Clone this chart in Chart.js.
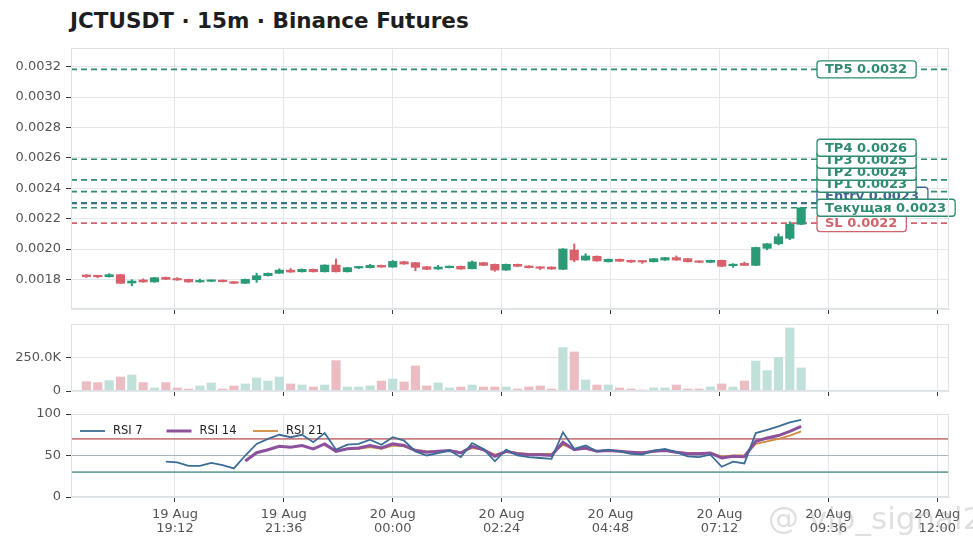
<!DOCTYPE html>
<html>
<head>
<meta charset="utf-8">
<script src="https://cdn.jsdelivr.net/npm/chart.js@4.4.1/dist/chart.umd.min.js"></script>
<style>
  body { margin:0; background:#fff; width:973px; height:548px; overflow:hidden; position:relative; font-family:"DejaVu Sans", sans-serif; }
  #title { position:absolute; left:70px; top:8px; font-size:21.5px; line-height:26px; font-weight:bold; color:#1e1e1e; white-space:nowrap; }
  .pane { position:absolute; left:0; width:973px; }
  #wm { position:absolute; left:768px; top:500px; font-size:31px; color:rgba(150,150,150,0.3); white-space:nowrap; }
</style>
</head>
<body>
<div id="title">JCTUSDT · 15m · Binance Futures</div>
<div class="pane" style="top:40px;height:280px"><canvas id="priceChart"></canvas></div>
<div class="pane" style="top:316px;height:86px"><canvas id="volumeChart"></canvas></div>
<div class="pane" style="top:405px;height:143px"><canvas id="rsiChart"></canvas></div>
<div id="wm">@ vip_signal2026</div>
<script>
// candles start 19 Aug 17:15, one every 15 minutes (x = minutes from 19 Aug 00:00)
var START_MINUTE = 17 * 60 + 15;
var STEP_MINUTES = 15;

var opens = [
  0.001830,0.001826,0.001818,0.001832,0.001777,0.001797,0.001784,0.001814,0.001805,0.001801,
  0.001784,0.001788,0.001794,0.001786,0.001775,0.001799,0.001825,0.001841,0.001862,0.001851,
  0.001867,0.001851,0.001895,0.001851,0.001876,0.001878,0.001893,0.001882,0.001917,0.001911,
  0.001884,0.001869,0.001878,0.001887,0.001871,0.001911,0.001900,0.001862,0.001900,0.001889,
  0.001882,0.001882,0.001867,0.001994,0.001928,0.001953,0.001917,0.001933,0.001926,0.001922,
  0.001917,0.001928,0.001944,0.001937,0.001920,0.001913,0.001926,0.001891,0.001906,0.001893,
  0.002005,0.002035,0.002071,0.002163];
var highs = [
  0.001832,0.001828,0.001839,0.001834,0.001799,0.001805,0.001814,0.001816,0.001812,0.001803,
  0.001803,0.001797,0.001797,0.001788,0.001803,0.001842,0.001843,0.001870,0.001872,0.001869,
  0.001869,0.001897,0.001935,0.001880,0.001887,0.001900,0.001895,0.001925,0.001919,0.001913,
  0.001886,0.001893,0.001889,0.001889,0.001922,0.001913,0.001902,0.001902,0.001902,0.001891,
  0.001884,0.001884,0.002003,0.002034,0.001970,0.001955,0.001935,0.001935,0.001928,0.001924,
  0.001939,0.001946,0.001955,0.001939,0.001922,0.001928,0.001928,0.001904,0.001915,0.002013,
  0.002037,0.002101,0.002180,0.002275];
var lows = [
  0.001813,0.001811,0.001816,0.001773,0.001759,0.001782,0.001782,0.001799,0.001795,0.001782,
  0.001782,0.001786,0.001784,0.001773,0.001773,0.001781,0.001823,0.001839,0.001847,0.001849,
  0.001849,0.001849,0.001849,0.001849,0.001871,0.001876,0.001880,0.001880,0.001900,0.001858,
  0.001865,0.001867,0.001876,0.001867,0.001869,0.001891,0.001854,0.001860,0.001884,0.001876,
  0.001865,0.001867,0.001865,0.001917,0.001926,0.001920,0.001915,0.001917,0.001913,0.001906,
  0.001915,0.001926,0.001926,0.001915,0.001911,0.001911,0.001884,0.001880,0.001891,0.001891,
  0.001996,0.002028,0.002062,0.002161];
var closes = [
  0.001819,0.001818,0.001832,0.001775,0.001790,0.001784,0.001812,0.001801,0.001797,0.001784,
  0.001790,0.001794,0.001786,0.001775,0.001801,0.001825,0.001841,0.001862,0.001849,0.001867,
  0.001851,0.001895,0.001851,0.001878,0.001882,0.001893,0.001882,0.001919,0.001902,0.001880,
  0.001867,0.001882,0.001887,0.001869,0.001915,0.001893,0.001862,0.001900,0.001887,0.001878,
  0.001874,0.001869,0.002001,0.001928,0.001955,0.001922,0.001933,0.001920,0.001915,0.001915,
  0.001937,0.001944,0.001928,0.001917,0.001913,0.001926,0.001887,0.001900,0.001893,0.002011,
  0.002035,0.002082,0.002163,0.002272];
var volumes = [
  70000,63000,78000,105000,120000,63000,23000,63000,23000,15000,
  38000,60000,15000,38000,53000,98000,75000,105000,53000,45000,
  30000,45000,228000,30000,30000,38000,75000,90000,68000,188000,
  38000,60000,23000,30000,45000,30000,30000,30000,15000,30000,
  38000,15000,325000,293000,83000,45000,45000,23000,15000,8000,
  23000,23000,45000,15000,15000,30000,53000,30000,75000,225000,
  153000,253000,473000,173000];

var rsi7 = [null,null,null,null,null,null,null,
  42.5,41.8,37.6,37.6,41,38.5,34.5,50,64,70,75,72,75,66,77,57,63,64,69,63,72,68,55,50,
  53,56,48,65,58,43,57,50,48,47,46,78,58,62,55,57,55,52,51,56,58,54,49,48,51,36.4,42.5,40.5,
  77,81,85,90,93];
var rsi14 = [null,null,null,null,null,null,null,null,null,null,null,null,null,null,
  43.3,53.4,57,61,60,62,58,64,55,58,59,62,59,64,62,56,54,55,56,53,61,57,49,55,52,51,51,50,
  66,57,59,55,56,55,54,53,55,56,54,52,52,53,47,49,48.5,67,71,74,79,85];
var rsi21 = [null,null,null,null,null,null,null,null,null,null,null,null,null,null,null,null,null,null,null,null,null,
  62,56,58,58,60,58,62,61,57,55,55,56,54,59,57,51,55,53,52,52,52,63,57,58,55,56,55,54,54,55,
  56,54,53,53,53,49,50,50,64,67,70,74,79];

var LEVEL_NAMES  = ['TP5', 'TP4', 'TP3', 'TP2', 'TP1', 'Entry', 'Текущая', 'SL'];
var LEVEL_VALUES = [0.003183, 0.002591, 0.002455, 0.002378, 0.002305, 0.002300, 0.002272, 0.002171];
var LEVEL_COLORS = ['#2e8b6f', '#2e8b6f', '#2e8b6f', '#2e8b6f', '#2e8b6f', '#3f6690', '#2e8b6f', '#d0646b'];

var RSI_LEVELS = [70, 50, 30];
var RSI_LEVEL_COLORS = ['#c98083', '#a9b3bc', '#6ea39b'];

var PRICE_TICKS = [0.0018, 0.0020, 0.0022, 0.0024, 0.0026, 0.0028, 0.0030, 0.0032];
var VOLUME_TICKS = [0, 250000];
var RSI_TICKS = [0, 50, 100];
var TIME_TICKS = [1152, 1296, 1440, 1584, 1728, 1872, 2016, 2160];
var TIME_TICK_LABELS = [['19 Aug','19:12'], ['19 Aug','21:36'], ['20 Aug','00:00'], ['20 Aug','02:24'],
  ['20 Aug','04:48'], ['20 Aug','07:12'], ['20 Aug','09:36'], ['20 Aug','12:00']];

var X_MIN = 1014.6, X_MAX = 2175.5;

Chart.defaults.font.family = "'DejaVu Sans', sans-serif";
Chart.defaults.animation = false;

var GREEN = '#2a9a77', RED = '#d9616b';
var VOL_GREEN = '#bfe1d9', VOL_RED = '#ebbcc1';
var GRID = '#e3e7eb', TICKC = '#3a3a3a', LABEL = '#555';

var candleX = opens.map(function(o, i) { return START_MINUTE + i * STEP_MINUTES; });
var isUp = closes.map(function(c, i) { return c >= opens[i]; });

function xAxis(showLabels, height) {
  return {
    type: 'linear', min: X_MIN, max: X_MAX, offset: false,
    grid: { color: GRID, tickColor: TICKC, tickLength: 5, offset: false },
    border: { color: GRID },
    ticks: {
      display: showLabels, color: LABEL, font: { size: 13, lineHeight: 1.12 }, padding: 5,
      maxRotation: 0, autoSkip: false,
      callback: function(v, i) { return TIME_TICK_LABELS[i]; }
    },
    afterBuildTicks: function(s) { s.ticks = TIME_TICKS.map(function(v) { return { value: v }; }); },
    afterFit: function(s) { s.height = height; s.paddingLeft = 0; s.paddingRight = 0; }
  };
}

function yAxis(min, max, tickList, fmt) {
  return {
    min: min, max: max,
    grid: { color: GRID, tickColor: TICKC, tickLength: 5 },
    border: { color: GRID },
    ticks: { color: LABEL, font: { size: 13 }, padding: 5, callback: fmt },
    afterBuildTicks: function(s) { s.ticks = tickList.map(function(v) { return { value: v }; }); },
    afterFit: function(s) { s.width = 71; s.paddingTop = 0; s.paddingBottom = 0; }
  };
}

// light frame round every plot
var frame = {
  id: 'frame',
  afterDraw: function(chart) {
    var a = chart.chartArea, ctx = chart.ctx;
    ctx.save();
    ctx.strokeStyle = '#dde2e7';
    ctx.lineWidth = 1;
    ctx.strokeRect(a.left + 0.5, a.top + 0.5, a.right - a.left - 1, a.bottom - a.top - 1);
    ctx.restore();
  }
};

// dashed target / stop lines with their boxed labels
var levelLines = {
  id: 'levelLines',
  beforeDatasetsDraw: function(chart) {
    var a = chart.chartArea, ctx = chart.ctx, y = chart.scales.y;
    ctx.save();
    ctx.lineWidth = 1.7;
    ctx.setLineDash([6, 4]);
    LEVEL_VALUES.forEach(function(v, i) {
      var py = y.getPixelForValue(v);
      ctx.strokeStyle = LEVEL_COLORS[i];
      ctx.beginPath();
      ctx.moveTo(a.left, py);
      ctx.lineTo(a.right, py);
      ctx.stroke();
    });
    ctx.restore();
  },
  afterDraw: function(chart) {
    var a = chart.chartArea, ctx = chart.ctx, y = chart.scales.y;
    var items = LEVEL_NAMES.map(function(n, i) {
      return { name: n, text: n + ' ' + LEVEL_VALUES[i].toFixed(4), y: y.getPixelForValue(LEVEL_VALUES[i]), color: LEVEL_COLORS[i] };
    });
    var sorted = items.slice().sort(function(p, q) { return q.y - p.y; });
    var prev = Infinity;
    sorted.forEach(function(it) { it.ly = Math.min(it.y, prev - 12); prev = it.ly; });
    var order = sorted.filter(function(it) { return it.name !== 'Текущая'; })
      .concat(sorted.filter(function(it) { return it.name === 'Текущая'; }));
    ctx.save();
    ctx.font = 'bold 13px "DejaVu Sans"';
    ctx.textBaseline = 'middle';
    order.forEach(function(it) {
      var w = ctx.measureText(it.text).width + 17, h = 17;
      var x = a.right - 132, top = it.ly - h / 2;
      ctx.beginPath();
      ctx.roundRect(x, top, w, h, 3);
      ctx.fillStyle = '#fff';
      ctx.fill();
      ctx.lineWidth = 1.3;
      ctx.strokeStyle = it.color;
      ctx.stroke();
      ctx.fillStyle = it.color;
      ctx.fillText(it.text, x + 8, it.ly + 0.5);
    });
    ctx.restore();
  }
};

var rsiLevels = {
  id: 'rsiLevels',
  beforeDatasetsDraw: function(chart) {
    var a = chart.chartArea, ctx = chart.ctx, y = chart.scales.y;
    ctx.save();
    RSI_LEVELS.forEach(function(v, i) {
      var py = y.getPixelForValue(v);
      ctx.strokeStyle = RSI_LEVEL_COLORS[i];
      ctx.lineWidth = i === 1 ? 1.2 : 1.6;
      ctx.beginPath();
      ctx.moveTo(a.left, py);
      ctx.lineTo(a.right, py);
      ctx.stroke();
    });
    ctx.restore();
  }
};

var rsiLegend = {
  id: 'rsiLegend',
  afterDraw: function(chart) {
    var a = chart.chartArea, ctx = chart.ctx;
    var ly = a.top + 17;
    ctx.save();
    ctx.font = '11.5px "DejaVu Sans"';
    ctx.textBaseline = 'middle';
    chart.data.datasets.forEach(function(ds, i) {
      var x0 = a.left + 9 + i * 86.5;
      ctx.strokeStyle = ds.borderColor;
      ctx.lineWidth = ds.borderWidth;
      ctx.beginPath();
      ctx.moveTo(x0, ly);
      ctx.lineTo(x0 + 25, ly);
      ctx.stroke();
      ctx.fillStyle = '#222';
      ctx.fillText(ds.label, x0 + 33, ly);
    });
    ctx.restore();
  }
};

var commonOpts = {
  responsive: true,
  maintainAspectRatio: false,
  layout: { padding: { left: 0, right: 24, top: 8, bottom: 0 } },
  plugins: { legend: { display: false }, tooltip: { enabled: false } }
};

new Chart(document.getElementById('priceChart'), {
  type: 'bar',
  data: {
    datasets: [{
      label: 'wick',
      data: candleX.map(function(x, i) { return { x: x, y: [lows[i], highs[i]] }; }),
      backgroundColor: isUp.map(function(u) { return u ? GREEN : RED; }),
      barThickness: 1.4, grouped: false
    }, {
      label: 'body',
      data: candleX.map(function(x, i) { return { x: x, y: [opens[i], closes[i]] }; }),
      backgroundColor: isUp.map(function(u) { return u ? GREEN : RED; }),
      barThickness: 8.5, minBarLength: 1.5, grouped: false
    }]
  },
  options: Object.assign({}, commonOpts, {
    scales: {
      x: xAxis(false, 11),
      y: yAxis(0.001606, 0.003323, PRICE_TICKS, function(v) { return v.toFixed(4); })
    }
  }),
  plugins: [levelLines, frame]
});

new Chart(document.getElementById('volumeChart'), {
  type: 'bar',
  data: {
    datasets: [{
      label: 'Volume',
      data: candleX.map(function(x, i) { return { x: x, y: volumes[i] }; }),
      backgroundColor: isUp.map(function(u) { return u ? VOL_GREEN : VOL_RED; }),
      barThickness: 8.5
    }]
  },
  options: Object.assign({}, commonOpts, {
    scales: {
      x: xAxis(false, 11),
      y: yAxis(0, 503000, VOLUME_TICKS, function(v) { return v === 0 ? '0' : (v / 1000).toFixed(1) + 'K'; })
    }
  }),
  plugins: [frame]
});

function rsiData(arr) {
  return candleX.map(function(x, i) { return { x: x, y: arr[i] }; });
}

new Chart(document.getElementById('rsiChart'), {
  type: 'line',
  data: {
    datasets: [
      { label: 'RSI 7', data: rsiData(rsi7), borderColor: '#3b6d96', borderWidth: 1.8, pointRadius: 0, tension: 0 },
      { label: 'RSI 14', data: rsiData(rsi14), borderColor: '#8c519d', borderWidth: 3, pointRadius: 0, tension: 0 },
      { label: 'RSI 21', data: rsiData(rsi21), borderColor: '#cf8a3f', borderWidth: 1.8, pointRadius: 0, tension: 0 }
    ]
  },
  options: Object.assign({}, commonOpts, {
    layout: { padding: { left: 0, right: 24, top: 9, bottom: 0 } },
    scales: {
      x: xAxis(true, 51),
      y: yAxis(0, 100, RSI_TICKS, function(v) { return String(v); })
    }
  }),
  plugins: [rsiLevels, rsiLegend, frame]
});
</script>
</body>
</html>
